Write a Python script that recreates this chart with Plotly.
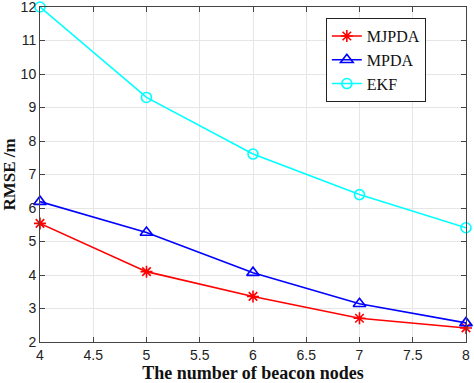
import plotly.graph_objects as go

x_nodes = [4, 5, 6, 7, 8]
mjpda = [5.54, 4.10, 3.36, 2.71, 2.42]
mpda = [6.19, 5.27, 4.07, 3.14, 2.57]
ekf = [12.0, 9.30, 7.61, 6.40, 5.41]

x_ticks = [4, 4.5, 5, 5.5, 6, 6.5, 7, 7.5, 8]
y_ticks = [2, 3, 4, 5, 6, 7, 8, 9, 10, 11, 12]

fig = go.Figure()
fig.add_trace(go.Scatter(x=x_nodes, y=mjpda, name="MJPDA", mode="lines+markers",
                         line=dict(color="#ff0000", width=1.6), cliponaxis=False,
                         marker=dict(symbol="asterisk-open", size=10, color="#ff0000",
                                     line=dict(color="#ff0000", width=1.6))))
fig.add_trace(go.Scatter(x=x_nodes, y=mpda, name="MPDA", mode="lines+markers",
                         line=dict(color="#0000ff", width=1.6), cliponaxis=False,
                         marker=dict(symbol="triangle-up-open", size=11, color="#0000ff",
                                     line=dict(color="#0000ff", width=1.6))))
fig.add_trace(go.Scatter(x=x_nodes, y=ekf, name="EKF", mode="lines+markers",
                         line=dict(color="#00ffff", width=1.6), cliponaxis=False,
                         marker=dict(symbol="circle-open", size=10, color="#00ffff",
                                     line=dict(color="#00ffff", width=1.6))))

axis_common = dict(showline=True, linecolor="#444444", linewidth=1, mirror="ticks",
                   ticks="inside", ticklen=5, tickcolor="#444444",
                   showgrid=True, gridcolor="#e6e6e6", gridwidth=1, zeroline=False,
                   automargin=False, ticklabeloverflow="allow",
                   tickfont=dict(family="Liberation Sans, Arial", size=14, color="#222222"))

fig.update_xaxes(range=[4, 8], tickvals=x_ticks, ticktext=[f"{v:g}" for v in x_ticks],
                 title=dict(text="<b>The number of beacon nodes</b>", standoff=4,
                            font=dict(family="Liberation Serif, Times New Roman", size=18, color="#111111")),
                 **axis_common)
fig.update_yaxes(range=[2, 12], tickvals=y_ticks, ticktext=[str(v) for v in y_ticks],
                 title=dict(text="<b>RMSE /m</b>", standoff=5,
                            font=dict(family="Liberation Serif, Times New Roman", size=17, color="#111111")),
                 **axis_common)

fig.update_layout(
    width=474, height=383,
    margin=dict(l=40, r=8, t=7, b=41),
    paper_bgcolor="white", plot_bgcolor="white",
    showlegend=True,
    legend=dict(x=0.671, y=0.967, xanchor="left", yanchor="top",
                bgcolor="white", bordercolor="#222222", borderwidth=1,
                font=dict(family="Liberation Serif, Times New Roman", size=16, color="#111111"),
                itemwidth=30, tracegroupgap=0, entrywidth=85),
)

fig.write_html("out.html", config={"displayModeBar": False},
               post_script="document.body.style.margin='0';document.body.style.overflow='hidden';")
